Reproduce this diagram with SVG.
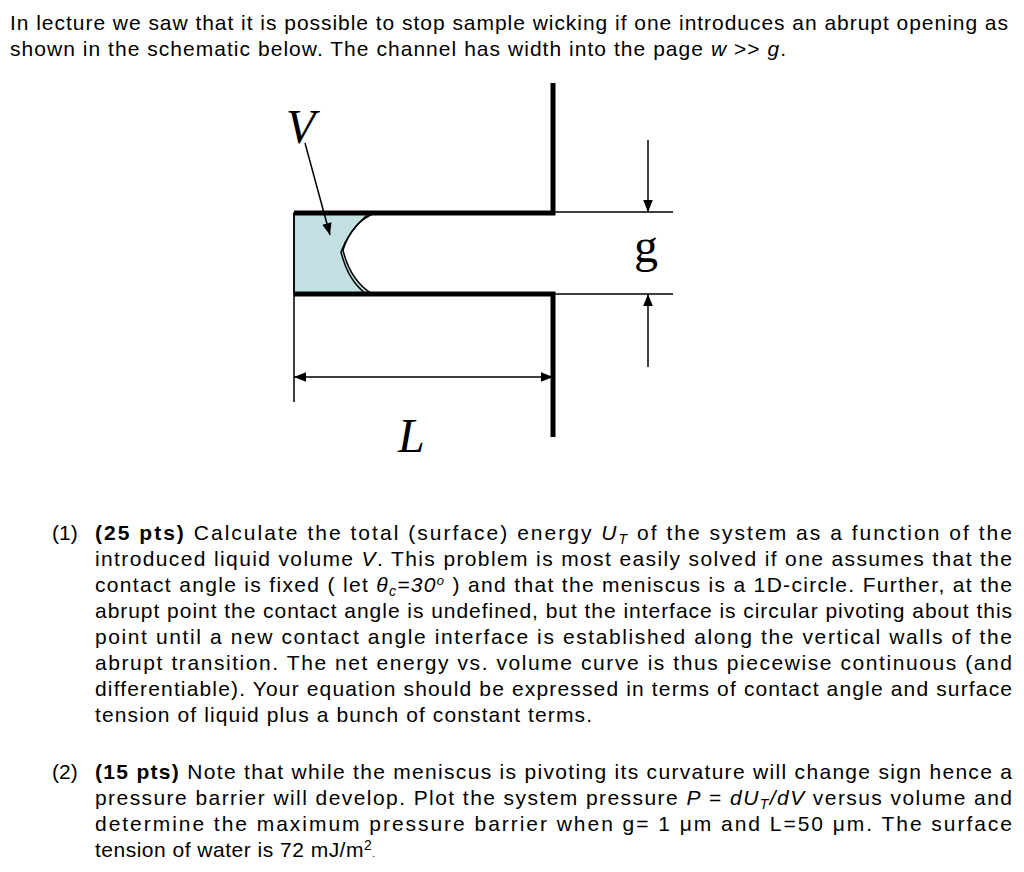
<svg xmlns="http://www.w3.org/2000/svg" width="1024" height="872" viewBox="0 0 1024 872">
<style>
.t{font-family:"Liberation Sans",Arial,sans-serif;font-size:21px;fill:#000}
.s{font-family:"Liberation Serif","Times New Roman",serif;font-style:italic;font-size:48px;fill:#000}
.w{stroke:#000;stroke-width:5;fill:none}
.th{stroke:#000;stroke-width:1.5;fill:none}
</style>
<defs><marker id="a" viewBox="0 0 10 10" refX="10" refY="5" markerWidth="12" markerHeight="12" markerUnits="userSpaceOnUse" orient="auto-start-reverse"><path d="M0,1 L10,5 L0,9Z" fill="#000"/></marker></defs>
<rect width="1024" height="872" fill="#fff"/>
<text class="t" x="10" y="30" textLength="998" lengthAdjust="spacing">In lecture we saw that it is possible to stop sample wicking if one introduces an abrupt opening as</text>
<text class="t" x="10" y="56" textLength="776" lengthAdjust="spacing">shown in the schematic below. The channel has width into the page <tspan font-style="italic">w</tspan> &gt;&gt; <tspan font-style="italic">g</tspan>.</text>
<g id="liquid"><path d="M294,213 L375,213 Q352,222 343,250 Q350,280 372,294 L294,294Z" fill="#c2e0e2" stroke="#000" stroke-width="1.5"/><path d="M368,214 Q348,232 341,252 Q348,280 365,293" class="th" stroke-width="1"/></g>
<g id="channel"><path class="w" d="M553,83 L553,213 L294,213"/><path class="w" d="M294,294 L553,294 L553,437"/><path class="th" d="M294,213 L294,402"/></g>
<g id="labels"><text class="s" x="286" y="143">V</text><text class="s" x="634" y="262" style="font-style:normal">g</text><text class="s" x="398" y="452">L</text></g>
<g id="connectors">
<path class="th" d="M553,212 H673 M553,294 H673"/>
<path class="th" d="M648,140 V212" marker-end="url(#a)"/>
<path class="th" d="M648,367 V294" marker-end="url(#a)"/>
<path class="th" d="M294,377 H553" marker-start="url(#a)" marker-end="url(#a)"/>
<path class="th" d="M305,143 L330,235" marker-end="url(#a)"/>
</g>
<g class="t">
<text x="52" y="540">(1)</text>
<text x="95" y="540" textLength="917" lengthAdjust="spacing"><tspan font-weight="bold">(25 pts)</tspan> Calculate the total (surface) energy <tspan font-style="italic">U<tspan font-size="14" dy="4">T</tspan></tspan><tspan dy="-4"> of the system as a function of the</tspan></text>
<text x="95" y="566" textLength="917" lengthAdjust="spacing">introduced liquid volume <tspan font-style="italic">V</tspan>. This problem is most easily solved if one assumes that the</text>
<text x="95" y="592" textLength="917" lengthAdjust="spacing">contact angle is fixed ( let <tspan font-style="italic">θ<tspan font-size="14" dy="4">c</tspan><tspan dy="-4">=30</tspan><tspan font-size="13" dy="-7">o</tspan></tspan><tspan dy="7"> ) and that the meniscus is a 1D-circle. Further, at the</tspan></text>
<text x="95" y="618" textLength="917" lengthAdjust="spacing">abrupt point the contact angle is undefined, but the interface is circular pivoting about this</text>
<text x="95" y="644" textLength="917" lengthAdjust="spacing">point until a new contact angle interface is established along the vertical walls of the</text>
<text x="95" y="670" textLength="917" lengthAdjust="spacing">abrupt transition. The net energy vs. volume curve is thus piecewise continuous (and</text>
<text x="95" y="696" textLength="917" lengthAdjust="spacing">differentiable). Your equation should be expressed in terms of contact angle and surface</text>
<text x="95" y="722" textLength="497" lengthAdjust="spacing">tension of liquid plus a bunch of constant terms.</text>
<text x="52" y="779">(2)</text>
<text x="95" y="779" textLength="917" lengthAdjust="spacing"><tspan font-weight="bold">(15 pts)</tspan> Note that while the meniscus is pivoting its curvature will change sign hence a</text>
<text x="95" y="805" textLength="917" lengthAdjust="spacing">pressure barrier will develop. Plot the system pressure <tspan font-style="italic">P</tspan> = <tspan font-style="italic">dU<tspan font-size="14" dy="4">T</tspan><tspan dy="-4">/dV</tspan></tspan> versus volume and</text>
<text x="95" y="831" textLength="917" lengthAdjust="spacing">determine the maximum pressure barrier when g= 1 μm and L=50 μm. The surface</text>
<text x="95" y="857" textLength="280" lengthAdjust="spacing">tension of water is 72 mJ/m<tspan font-size="14" dy="-7">2</tspan><tspan dy="7" font-size="10">.</tspan></text>
</g>
</svg>
